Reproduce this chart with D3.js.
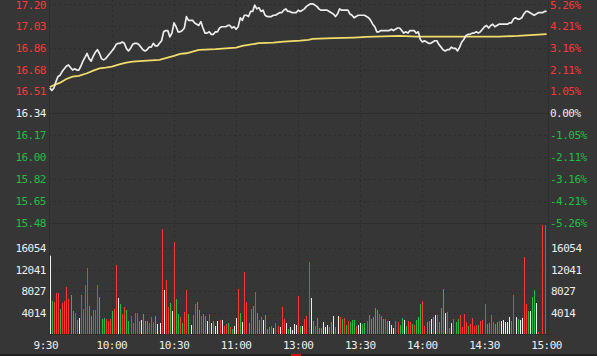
<!DOCTYPE html>
<html><head><meta charset="utf-8">
<script src="https://cdn.jsdelivr.net/npm/d3@7"></script>
<style>html,body{margin:0;padding:0;background:#363636;overflow:hidden}</style>
</head><body><svg id="c" width="597" height="356"></svg>
<script>
// ---- data ----
const preClose = 16.34;
const timeLabels = ["9:30","10:00","10:30","11:00","13:00","13:30","14:00","14:30","15:00"];
const timeIdx = [0,30,60,90,120,150,180,210,240];
const priceTicks = [17.20,17.028,16.856,16.684,16.512,16.34,16.168,15.996,15.824,15.652,15.48];
const pctLabels = ["5.26%","4.21%","3.16%","2.11%","1.05%","0.00%","-1.05%","-2.11%","-3.16%","-4.21%","-5.26%"];
const volTicks = [16054,12041,8027,4014];

const price = [
16.54,16.52,16.54,16.59,16.63,16.64,16.67,16.69,16.71,16.72,
16.70,16.68,16.69,16.68,16.68,16.71,16.75,16.78,16.81,16.77,
16.75,16.79,16.82,16.84,16.81,16.77,16.76,16.77,16.79,16.81,
16.83,16.85,16.88,16.89,16.89,16.90,16.89,16.85,16.83,16.85,
16.88,16.89,16.89,16.88,16.86,16.84,16.83,16.84,16.86,16.86,
16.89,16.87,16.87,16.89,16.91,16.98,16.99,16.99,16.94,16.97,
17.05,17.02,16.98,16.98,16.99,17.01,17.10,17.07,17.07,17.07,
17.05,17.04,17.03,17.06,17.01,16.97,16.97,16.98,16.96,16.96,
16.98,16.98,17.01,17.02,17.02,17.02,17.03,17.03,17.01,17.02,
17.00,17.02,17.09,17.07,17.11,17.11,17.10,17.14,17.14,17.19,
17.16,17.17,17.14,17.15,17.11,17.10,17.10,17.10,17.11,17.11,
17.12,17.13,17.13,17.15,17.16,17.14,17.14,17.13,17.13,17.13,
17.15,17.14,17.15,17.16,17.18,17.19,17.20,17.20,17.19,17.18,
17.16,17.15,17.15,17.15,17.15,17.14,17.13,17.12,17.10,17.12,
17.16,17.15,17.15,17.15,17.15,17.12,17.11,17.09,17.10,17.11,
17.11,17.11,17.11,17.10,17.09,17.07,17.04,17.02,16.98,16.98,
16.99,16.99,16.99,16.99,16.99,17.00,16.99,17.00,17.01,17.01,
16.99,16.97,16.98,16.97,16.99,16.99,16.99,16.97,16.98,16.92,
16.90,16.91,16.90,16.89,16.89,16.90,16.91,16.91,16.88,16.86,
16.84,16.83,16.84,16.84,16.86,16.85,16.85,16.83,16.86,16.90,
16.92,16.95,16.96,16.96,16.97,16.97,16.98,16.97,16.98,17.00,
17.02,17.03,17.01,17.03,17.04,17.02,17.03,17.04,17.04,17.04,
17.04,17.04,17.05,17.05,17.08,17.09,17.08,17.08,17.09,17.12,
17.14,17.14,17.13,17.12,17.11,17.12,17.13,17.13,17.13,17.14,17.14
];

const avgIdx = [0,1,5,8,11,14,18,21,24,27,30,34,37,40,47,53,56,60,63,66,69,72,80,90,93,101,108,113,121,125,127,137,147,153,169,177,185,217,226,234,240];
const avgPrice = [16.545,16.555,16.581,16.610,16.628,16.634,16.655,16.676,16.694,16.699,16.707,16.726,16.738,16.746,16.754,16.760,16.773,16.791,16.807,16.812,16.825,16.838,16.844,16.856,16.870,16.891,16.896,16.903,16.911,16.917,16.925,16.930,16.935,16.940,16.948,16.943,16.943,16.943,16.948,16.956,16.962];

const volume = [
14640,6170,5980,7660,7660,4670,5790,6170,8780,6540,
7290,4300,3920,2620,2990,7290,4670,9160,12340,5230,
3360,4490,4490,9160,6920,2800,2990,2800,2430,2800,
4300,4670,12900,6730,5610,3740,5050,4490,2430,3360,
2060,3920,3920,2430,2620,3740,2430,2430,2060,3180,
2240,3360,1870,2060,19620,8220,10090,5050,5790,4300,
17190,6540,3740,3180,2060,4110,8220,3740,1680,3550,
5610,5980,4490,3360,3740,3360,2430,3740,2060,2430,
1500,2430,2620,2620,1500,1870,2060,1310,930,1500,
2990,8410,3920,2240,11590,5980,2060,4670,5230,7850,
3920,2620,3180,2620,3550,930,1310,1500,1120,2060,
1500,1310,5050,2800,2060,930,1310,750,1870,1680,
7100,1500,1500,2800,3360,13460,6730,2430,1500,2990,
1120,1120,2240,1310,1680,1310,2240,3360,1310,3360,
3180,2800,2990,1680,2430,2240,2620,2620,1500,1680,
2060,1870,2060,2430,3550,2800,3180,4860,4490,3740,
3360,2800,2800,2430,2430,1680,1120,2430,2240,1680,
2990,2620,1500,2430,2240,1870,1680,2620,3180,5610,
6170,1500,2240,2430,2800,3180,3550,3550,2240,4860,
8410,3920,4110,1120,2060,2800,2240,2800,3550,1310,
3740,2240,1500,1870,2990,1500,1680,1680,2430,2620,
5610,1870,2060,3550,2240,1870,2240,2430,2430,2620,
2240,2240,3180,2430,7290,3180,2800,2620,2990,14390,
5610,4300,4300,6920,8220,5790,370,0,26000,26000,0
];
const volDir = ("wgrrrgrrrr"+"ggrgwrrrrg"+"grrrgggrrr"+"grrwgrrggr"+"rrrgwgggrr"+
  "rgwwrwrrgw"+"rggrgrrgwr"+"rggrggwrwg"+"wwrwrrgrgw"+"wrgwrrgrgr"+
  "ggrwgggrwr"+"rwrrwgwwww"+"rgwrrrwgrg"+"ggwwwggwgw"+"rgrgrgggrw"+
  "wggrgggggr"+"ggrgwwwrrg"+"gwgrrgrggg"+"rrggwgwrgg"+"gwrgwrggrr"+
  "rrgrrrrgrr"+"rggrrggrww"+"wwwgrwgwwr"+"rgwggwrwrrw").split("");

// ---- styles ----
const BG = "#363636", GRID = "#2c2c2c", SOLID = "#2e2e2e";
const RED = "#ff3535", GREEN = "#1fbf45", WHITE = "#eeeeee";
const colorOf = {r: RED, g: GREEN, w: WHITE};

const svg = d3.select("#c");
svg.append("rect").attr("width",597).attr("height",356).attr("fill",BG);

const x = d3.scaleLinear().domain([0,240]).range([49.8,546.6]);
const yP = d3.scaleLinear().domain([15.48,17.20]).range([223,3.8]);
const yV = d3.scaleLinear().domain([0,20068]).range([334,226.6]);

const L = 49, R = 548;
const font = "'DejaVu Sans Mono', monospace";

// grid: horizontal price
svg.append("g").selectAll("line").data(priceTicks).join("line")
  .attr("x1",L).attr("x2",R)
  .attr("y1",d=>Math.round(yP(d))+0.5).attr("y2",d=>Math.round(yP(d))+0.5)
  .attr("stroke",(d,i)=> (i===5||i===10) ? SOLID : GRID).attr("stroke-width",1)
  .attr("stroke-dasharray",(d,i)=> (i===5||i===10) ? null : "2,3");
// grid: horizontal volume
svg.append("g").selectAll("line").data(volTicks).join("line")
  .attr("x1",L).attr("x2",R)
  .attr("y1",d=>Math.round(yV(d))+0.5).attr("y2",d=>Math.round(yV(d))+0.5)
  .attr("stroke",GRID).attr("stroke-dasharray","2,3");
// grid: vertical
svg.append("g").selectAll("line").data(timeIdx.slice(1,-1)).join("line")
  .attr("x1",d=>Math.round(x(d))+0.5).attr("x2",d=>Math.round(x(d))+0.5)
  .attr("y1",0).attr("y2",334)
  .attr("stroke",GRID).attr("stroke-dasharray","2,3");
// borders
svg.append("line").attr("x1",L+0.5).attr("x2",L+0.5).attr("y1",0).attr("y2",334).attr("stroke",SOLID);
svg.append("line").attr("x1",R+0.5).attr("x2",R+0.5).attr("y1",0).attr("y2",356).attr("stroke",SOLID);
svg.append("line").attr("x1",L).attr("x2",R).attr("y1",334.5).attr("y2",334.5).attr("stroke",SOLID);

// volume bars
const vTop = 225;
svg.append("g").selectAll("rect").data(volume.map((v,i)=>({v,i,c:volDir[i]})).filter(d=>d.v>0))
  .join("rect")
  .attr("x",d=>Math.round(x(d.i)))
  .attr("width",1)
  .attr("y",d=>Math.max(vTop, yV(d.v)))
  .attr("height",d=>334 - Math.max(vTop, yV(d.v)))
  .attr("fill",d=>colorOf[d.c]);

// avg line
svg.append("path")
  .datum(avgIdx.map((t,i)=>[t,avgPrice[i]]))
  .attr("d",d3.line().x(d=>x(d[0])).y(d=>yP(d[1])))
  .attr("fill","none").attr("stroke","#f2dc6a").attr("stroke-width",1.8);

// price line
svg.append("path")
  .datum(price)
  .attr("d",d3.line().x((d,i)=>x(i)).y(d=>yP(d)))
  .attr("fill","none").attr("stroke","#ececec").attr("stroke-width",1.7)
  .attr("stroke-linejoin","round");

// labels
const labColor = i => i<5 ? RED : (i===5 ? WHITE : GREEN);
const lab = svg.append("g").attr("font-family",font).attr("font-size","11px").attr("letter-spacing","-0.5px");
lab.selectAll("text.pl").data(priceTicks).join("text").attr("class","pl")
  .attr("x",46).attr("y",(d,i)=>yP(d)+4+(i===0?1:0)).attr("text-anchor","end")
  .attr("fill",(d,i)=>labColor(i)).text(d=>d.toFixed(2));
lab.selectAll("text.pr").data(priceTicks).join("text").attr("class","pr")
  .attr("x",550).attr("y",(d,i)=>yP(d)+4+(i===0?1:0))
  .attr("fill",(d,i)=>labColor(i)).text((d,i)=>pctLabels[i]);
lab.selectAll("text.vl").data(volTicks).join("text").attr("class","vl")
  .attr("x",46).attr("y",d=>yV(d)+4).attr("text-anchor","end")
  .attr("fill",WHITE).text(d=>d);
lab.selectAll("text.vr").data(volTicks).join("text").attr("class","vr")
  .attr("x",551).attr("y",d=>yV(d)+4)
  .attr("fill",WHITE).text(d=>d);
lab.selectAll("text.t").data(timeIdx).join("text").attr("class","t")
  .attr("x",(d,i)=>x(d) - (i===0?4:0)).attr("y",348.5).attr("text-anchor","middle")
  .attr("fill",WHITE).text((d,i)=>timeLabels[i]);

// bottom strip
svg.append("rect").attr("x",0).attr("y",354).attr("width",597).attr("height",2).attr("fill","#222");
svg.append("rect").attr("x",291).attr("y",354).attr("width",10).attr("height",2).attr("fill","#d01010");
</script></body></html>
